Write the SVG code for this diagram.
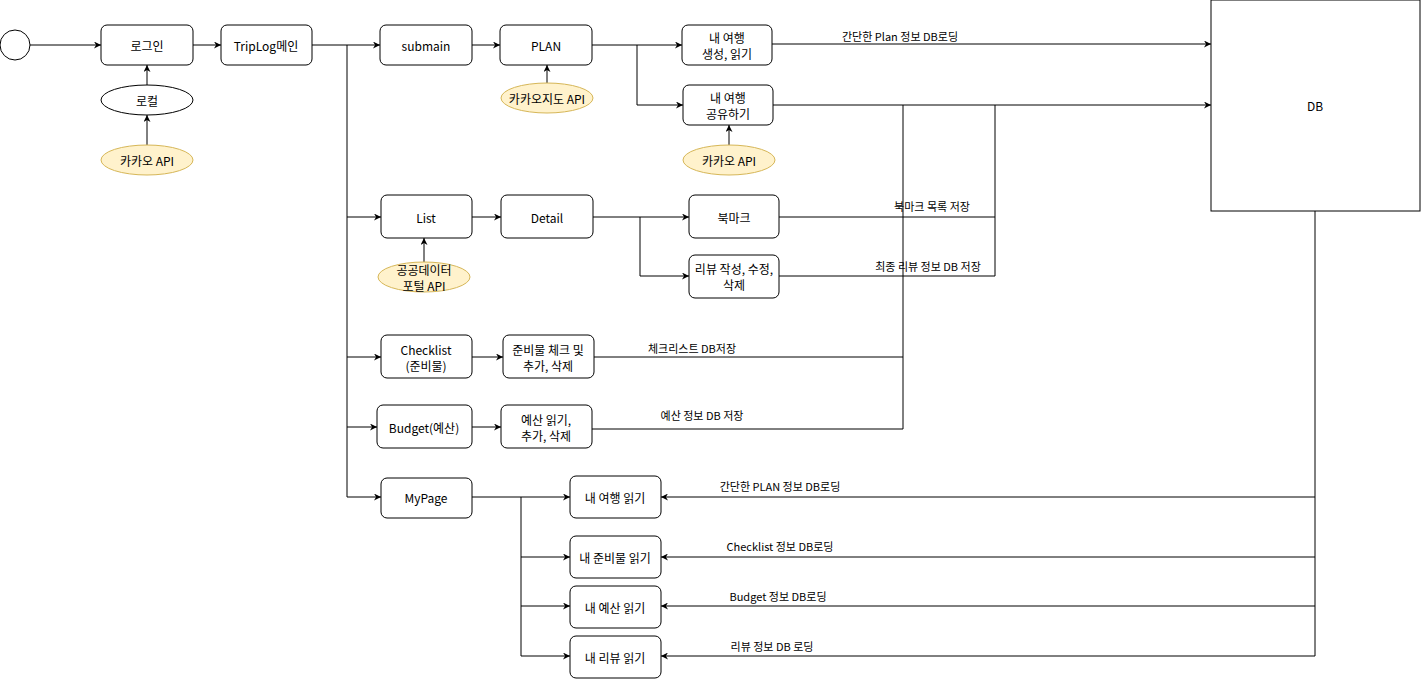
<svg xmlns="http://www.w3.org/2000/svg" width="1421" height="679" viewBox="0 0 1421 679">
<defs>
<marker id="a" viewBox="0 0 10 10" refX="10" refY="5" markerWidth="7" markerHeight="7" orient="auto"><path d="M0,0 L10,5 L0,10 L3,5 z" fill="#000"/></marker>
<style>
.b{fill:#fff;stroke:#000;stroke-width:1}
.y{fill:#fff2cc;stroke:#d6b656;stroke-width:1}
text{font-family:"Noto Sans CJK KR","Liberation Sans",sans-serif;font-size:12px;text-anchor:middle;dominant-baseline:central;fill:#000}
.l{font-size:11px}
.c{fill:none;stroke:#000;stroke-width:1}
.m{marker-end:url(#a)}
</style>
</defs>
<rect width="1421" height="679" fill="#fff"/>
<g id="connectors" class="c">
<path class="c m" d="M30,45 H101"/>
<path class="c m" d="M147,85 V65"/>
<path class="c m" d="M147,145 V115"/>
<path class="c m" d="M193,45 H221"/>
<path class="c m" d="M312,45 H380"/>
<path class="c m" d="M347,45 V217 H381"/>
<path class="c m" d="M347,217 V357 H381"/>
<path class="c m" d="M347,357 V427 H377"/>
<path class="c m" d="M347,427 V497 H381"/>
<path class="c m" d="M472,45 H500"/>
<path class="c m" d="M547,83 V65"/>
<path class="c m" d="M592,45 H682"/>
<path class="c m" d="M637,45 V105 H683"/>
<path class="c m" d="M729,145 V125"/>
<path class="c m" d="M772,44 H1211"/>
<path class="c m" d="M773,105 H1211"/>
<path class="c m" d="M472,217 H501"/>
<path class="c m" d="M424,262 V238"/>
<path class="c m" d="M593,217 H689"/>
<path class="c m" d="M640,217 V276 H689"/>
<path class="c" d="M779,217 H995 M779,276 H995 M995,105 V276"/>
<path class="c m" d="M472,357 H503"/>
<path class="c m" d="M472,427 H501"/>
<path class="c" d="M594,357 H903 M592,429 H903 M903,105 V429"/>
<path class="c m" d="M472,497 H570"/>
<path class="c m" d="M521,497 V557 H570"/>
<path class="c m" d="M521,557 V606 H570"/>
<path class="c m" d="M521,606 V656 H570"/>
<path class="c" d="M1315,211 V656"/>
<path class="c m" d="M1315,497 H661"/>
<path class="c m" d="M1315,557 H661"/>
<path class="c m" d="M1315,606 H661"/>
<path class="c m" d="M1315,656 H661"/>
</g>
<g id="labels">
<text class="l" x="900" y="36">간단한 Plan 정보 DB로딩</text>
<text class="l" x="932" y="206">북마크 목록 저장</text>
<text class="l" x="928" y="266">최종 리뷰 정보 DB 저장</text>
<text class="l" x="692" y="348">체크리스트 DB저장</text>
<text class="l" x="702" y="415">예산 정보 DB 저장</text>
<text class="l" x="780" y="486">간단한 PLAN 정보 DB로딩</text>
<text class="l" x="780" y="546">Checklist 정보 DB로딩</text>
<text class="l" x="778" y="596">Budget 정보 DB로딩</text>
<text class="l" x="772" y="646">리뷰 정보 DB 로딩</text>
</g>
<g id="start"><circle class="b" cx="15" cy="45" r="15"/></g>
<g id="login"><rect class="b" x="101" y="25" width="92" height="40" rx="6"/><text x="147" y="45">로그인</text></g>
<g id="local"><ellipse class="b" cx="147" cy="100" rx="46" ry="15"/><text x="147" y="100">로컬</text></g>
<g id="kakao1"><ellipse class="y" cx="147" cy="160" rx="46" ry="15"/><text x="147" y="160">카카오 API</text></g>
<g id="main"><rect class="b" x="221" y="25" width="91" height="40" rx="6"/><text x="266" y="45">TripLog메인</text></g>
<g id="submain"><rect class="b" x="380" y="25" width="92" height="40" rx="6"/><text x="426" y="45">submain</text></g>
<g id="plan"><rect class="b" x="500" y="25" width="92" height="40" rx="6"/><text x="546" y="45">PLAN</text></g>
<g id="kakaomap"><ellipse class="y" cx="547" cy="98" rx="46" ry="15"/><text x="547" y="98">카카오지도 API</text></g>
<g id="create"><rect class="b" x="682" y="25" width="90" height="40" rx="6"/><text x="727" y="37">내 여행</text><text x="727" y="53">생성, 읽기</text></g>
<g id="share"><rect class="b" x="683" y="85" width="90" height="40" rx="6"/><text x="728" y="97">내 여행</text><text x="728" y="113">공유하기</text></g>
<g id="kakao2"><ellipse class="y" cx="729" cy="160" rx="46" ry="15"/><text x="729" y="160">카카오 API</text></g>
<g id="db"><rect class="b" x="1211" y="0" width="209" height="211"/><text x="1315" y="105">DB</text></g>
<g id="list"><rect class="b" x="381" y="195" width="91" height="43" rx="6"/><text x="426" y="217">List</text></g>
<g id="detail"><rect class="b" x="501" y="195" width="92" height="43" rx="6"/><text x="547" y="217">Detail</text></g>
<g id="public"><ellipse class="y" cx="424" cy="277" rx="46" ry="15"/><text x="424" y="269">공공데이터</text><text x="424" y="285">포털 API</text></g>
<g id="bookmark"><rect class="b" x="689" y="195" width="90" height="43" rx="6"/><text x="734" y="217">북마크</text></g>
<g id="review"><rect class="b" x="689" y="255" width="90" height="43" rx="6"/><text x="734" y="268">리뷰 작성, 수정,</text><text x="734" y="284">삭제</text></g>
<g id="checklist"><rect class="b" x="381" y="335" width="91" height="43" rx="6"/><text x="426" y="349">Checklist</text><text x="426" y="365">(준비물)</text></g>
<g id="prep"><rect class="b" x="503" y="335" width="91" height="43" rx="6"/><text x="548" y="349">준비물 체크 및</text><text x="548" y="365">추가, 삭제</text></g>
<g id="budget"><rect class="b" x="377" y="405" width="95" height="43" rx="6"/><text x="424" y="427">Budget(예산)</text></g>
<g id="budgetop"><rect class="b" x="501" y="405" width="91" height="43" rx="6"/><text x="546" y="419">예산 읽기,</text><text x="546" y="435">추가, 삭제</text></g>
<g id="mypage"><rect class="b" x="381" y="478" width="91" height="40" rx="6"/><text x="426" y="497">MyPage</text></g>
<g id="r1"><rect class="b" x="570" y="476" width="91" height="42" rx="6"/><text x="615" y="497">내 여행 읽기</text></g>
<g id="r2"><rect class="b" x="570" y="536" width="91" height="42" rx="6"/><text x="615" y="557">내 준비물 읽기</text></g>
<g id="r3"><rect class="b" x="570" y="586" width="91" height="42" rx="6"/><text x="615" y="607">내 예산 읽기</text></g>
<g id="r4"><rect class="b" x="570" y="636" width="91" height="42" rx="6"/><text x="615" y="657">내 리뷰 읽기</text></g>
</svg>
